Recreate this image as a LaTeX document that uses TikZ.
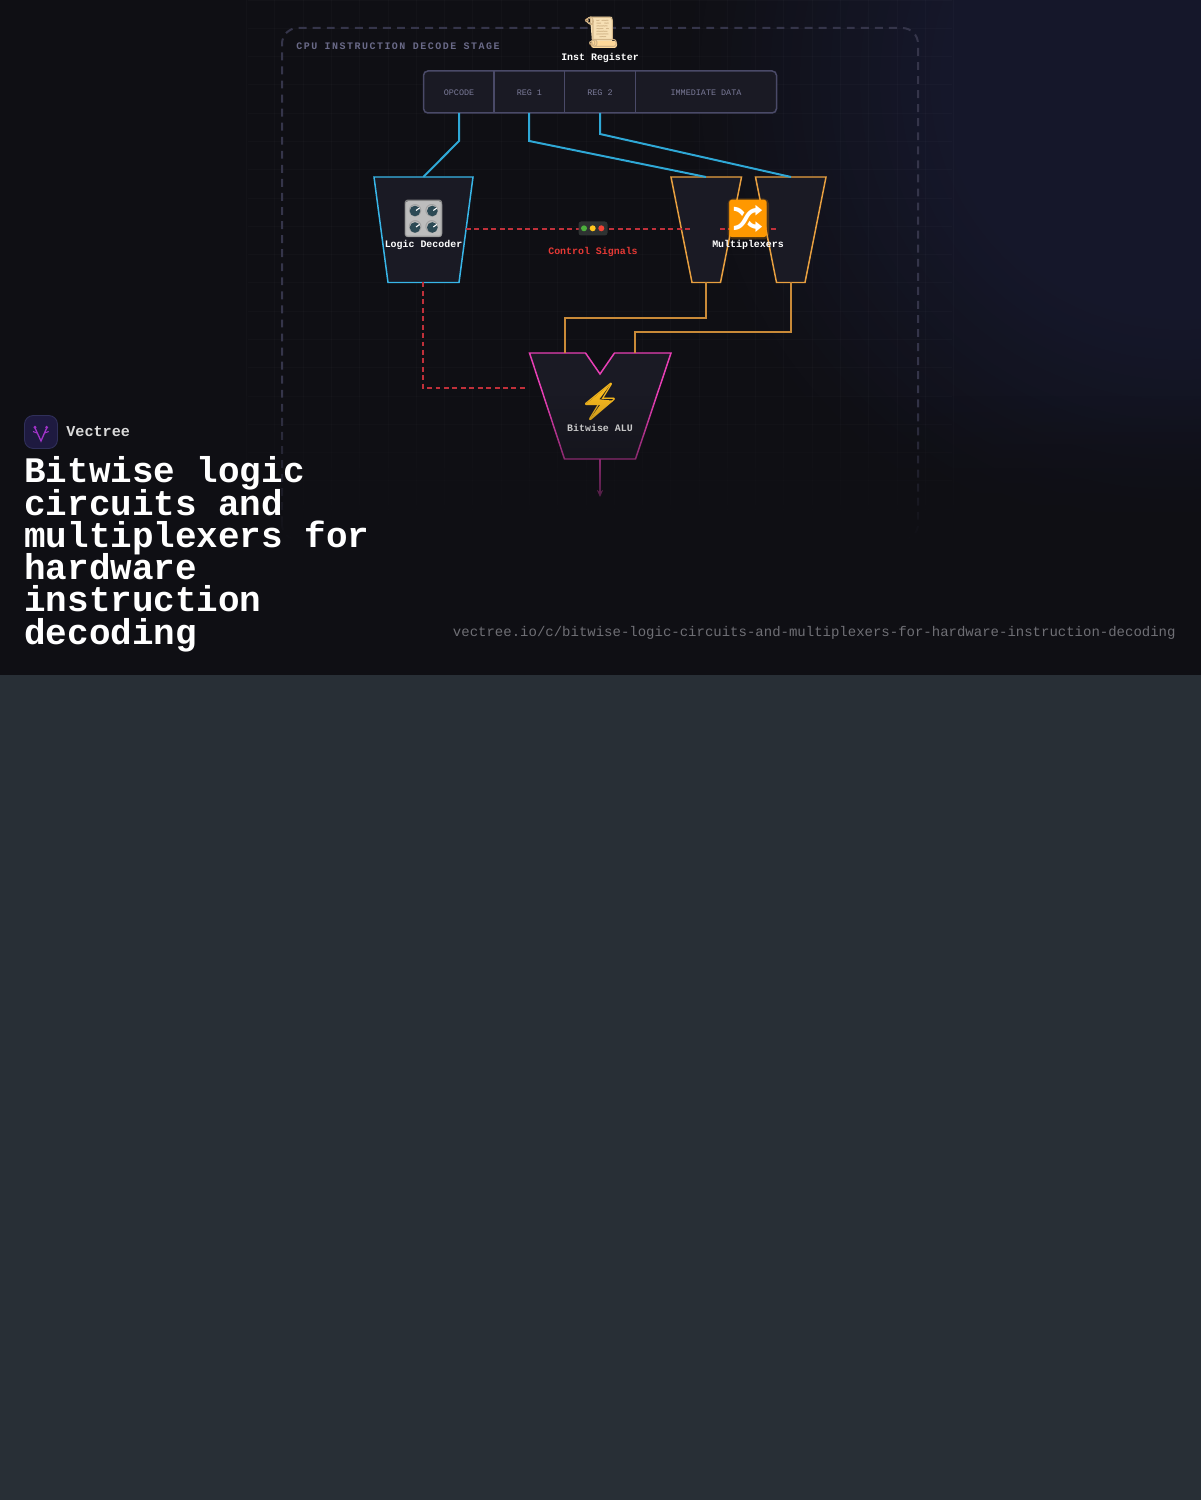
\documentclass[tikz,border=0pt]{standalone}
\usepackage{fontspec}
\setmonofont{Liberation Mono}
\setsansfont{Liberation Sans}
\newfontfamily\emojifont{Noto Emoji}
\newfontfamily\stagefont[LetterSpace=15]{Liberation Mono}
\usetikzlibrary{arrows.meta,fadings,calc}
\lineskiplimit=-100pt
\definecolor{bgdark}{HTML}{0F0F14}
\definecolor{navy}{HTML}{15172A}
\definecolor{pagegrey}{HTML}{282F36}
\definecolor{framec}{HTML}{35354A}
\definecolor{panel}{HTML}{1A1A24}
\definecolor{panelline}{HTML}{4A4A68}
\definecolor{cyanc}{HTML}{2FA8D6}
\definecolor{cyang}{HTML}{38B6E8}
\definecolor{orangec}{HTML}{E8A040}
\definecolor{orangew}{HTML}{C98A38}
\definecolor{magc}{HTML}{E83FB5}
\definecolor{redc}{HTML}{C0303A}
\definecolor{mutedt}{HTML}{6A6A88}
\definecolor{celltext}{HTML}{7A7A98}
\definecolor{sigtext}{HTML}{E53935}
\definecolor{parch}{HTML}{F6DFB4}
\definecolor{parchroll}{HTML}{FFD99A}
\definecolor{parchknob}{HTML}{8A5A30}
\definecolor{parchline}{HTML}{D2B588}
\definecolor{knobgrey}{HTML}{BDBDBD}
\definecolor{knobteal}{HTML}{2D4A55}
\definecolor{shuforange}{HTML}{FF9800}
\definecolor{boltc}{HTML}{F7B91E}
\definecolor{lampbox}{HTML}{2E3232}
\definecolor{lampg}{HTML}{4CAF3C}
\definecolor{lampy}{HTML}{FFC61E}
\definecolor{lampr}{HTML}{F44336}
\definecolor{logofill}{HTML}{1E1A40}
\definecolor{logoline}{HTML}{30305A}
\definecolor{logomark}{HTML}{A033C8}
\definecolor{urlc}{HTML}{6F6F75}
\tikzset{x=0.02cm,y=-0.02cm,
 wire/.style={line width=1.134pt,line join=miter},
 sigline/.style={redc,line width=1.134pt,dash pattern=on 2.8pt off 2pt},
 gatebox/.style={fill=panel,line width=0.85pt},
 celllabel/.style={font=\ttfamily\fontsize{4.8pt}{6pt}\selectfont,text=celltext,inner sep=0pt},
 gatelabel/.style={font=\ttfamily\bfseries\fontsize{5.65pt}{7pt}\selectfont,text=white,inner sep=0pt},
 emoji/.style={font=\emojifont\fontsize{21pt}{21pt}\selectfont,inner sep=0pt},
 halo/.style={fill=#1,opacity=0.22,rounded corners=3pt},
}
\tikzfading[name=fadebottom,top color=transparent!100,bottom color=transparent!0]
\begin{document}
\begin{tikzpicture}
\useasboundingbox (0,0) rectangle (1200,1500);
\fill[pagegrey] (-3,-3) rectangle (1203,1503);
\fill[bgdark] (-3,-3) rectangle (1203,675);
% tinted glow top right
\begin{scope}
\clip (-3,-3) rectangle (1203,675);
\foreach \i in {0,...,26} {
  \pgfmathsetmacro{\rr}{500-10*\i}
  \pgfmathsetmacro{\mixv}{\i*100/26}
  \fill[navy!\mixv!bgdark] (1180,80) circle (\rr);
}
\end{scope}
% grid
\foreach \gk in {-13,...,12} \draw[white,opacity=0.018,line width=0.4pt] ({600+(\gk+0.5)*28.28},0) -- ({600+(\gk+0.5)*28.28},540);
\foreach \gk in {0,...,19} \draw[white,opacity=0.018,line width=0.4pt] (248,{\gk*28.28}) -- (952,{\gk*28.28});
% frame
\draw[framec,line width=1.134pt,dash pattern=on 4.5pt off 3.5pt,rounded corners=9pt] (282,540) -- (282,28) -- (918,28) -- (918,540) -- cycle;
\node[anchor=west,inner sep=0pt,font=\stagefont\bfseries\fontsize{5.67pt}{7pt}\selectfont,text=mutedt] (stage) at (296,46) {CPU INSTRUCTION DECODE STAGE};
% register
\draw[panelline,fill=panel,line width=0.85pt,rounded corners=2.5pt] (423.5,71) rectangle (776.5,113);
\draw[panelline,line width=0.85pt] (494,71) -- (494,113) (564.7,71) -- (564.7,113) (635.3,71) -- (635.3,113);
\node[celllabel] (opc) at (459,92.5) {OPCODE};
\node[celllabel] (rg1) at (529.4,92.5) {REG 1};
\node[celllabel] (rg2) at (600,92.5) {REG 2};
\node[celllabel] (imm) at (706,92.5) {IMMEDIATE DATA};
\coordinate (opcb) at (459,113);
\coordinate (rg1b) at (529.2,113);
\coordinate (rg2b) at (600,113);
% gates
\draw[gatebox,draw=cyang] (374,177) -- (473,177) -- (459,282.5) -- (388,282.5) -- cycle;
\draw[gatebox,draw=orangec] (671,177) -- (741.5,177) -- (720.5,282.5) -- (692,282.5) -- cycle;
\draw[gatebox,draw=orangec] (755.5,177) -- (826,177) -- (805,282.5) -- (776.5,282.5) -- cycle;
\draw[gatebox,draw=magc] (529.5,353) -- (585.5,353) -- (600,374) -- (614.5,353) -- (671,353) -- (635.5,459) -- (564.5,459) -- cycle;
\coordinate (dect) at (423.3,177);
\coordinate (decb) at (423.3,282.5);
\coordinate (mxat) at (706,177);
\coordinate (mxab) at (706,282.5);
\coordinate (mxbt) at (791,177);
\coordinate (mxbb) at (791,282.5);
\coordinate (alul) at (564.7,353);
\coordinate (alur) at (635.3,353);
\coordinate (alub) at (600,459);
\coordinate (aluin) at (525,388.3);
\coordinate (out) at (600,497);
% wires
\draw[wire,cyanc] (opcb) -- ++(0,28) -- (dect);
\draw[wire,cyanc] (rg1b) -- ++(0,28) -- (mxat);
\draw[wire,cyanc] (rg2b) -- ++(0,21) -- (mxbt);
\draw[wire,orangew] (mxab) |- (564.7,317.7) -- (alul);
\draw[wire,orangew] (mxbb) |- (635.3,331.7) -- (alur);
\draw[sigline] (decb) |- (aluin);
\coordinate (sigl) at (466,229.3);
\coordinate (sigm) at (690,229.3);
\coordinate (sign) at (720,229.3);
\coordinate (sige) at (776,229.3);
\draw[sigline] (sigl) -- (sigm);
\draw[sigline] (sign) -- (sige);
\draw[wire,magc,-{Stealth[length=4pt,width=3.5pt]}] (alub) -- (out);
% scroll icon
\fill[parch] (590,17) -- (612,17) -- (612,42) -- (592,42) -- cycle;
\fill[parchroll,rounded corners=1.5pt] (591,41) rectangle (617,48);
\fill[parchknob] (586.5,20) circle (1.8) (590.8,44) circle (1.8);
\node[emoji,font=\emojifont\fontsize{17pt}{17pt}\selectfont,text=parchline] (scroll) at (601,32) {📜};
\node[gatelabel] (instl) at (600,57.5) {Inst Register};
% knobs icon
\fill[knobgrey,rounded corners=2pt] (405,201) rectangle (442,237);
\node[emoji,text=knobgrey!70!black] (knobs) at (423.5,219) {🎛};
\fill[knobgrey,rounded corners=2pt,opacity=0.5] (405,201) rectangle (442,237);
\foreach \kx/\ky in {415/211,432.3/211,415/227.5,432.3/227.5} {
  \fill[knobteal] (\kx,\ky) circle (5.3);
  \draw[white,line width=0.6pt] (\kx+1,\ky-0.5) -- (\kx+4.5,\ky-3);
}
\node[gatelabel] (decl) at (423.5,244.5) {Logic Decoder};
% shuffle icon
\fill[halo=shuforange] (727.5,198.5) rectangle (769,239.5);
\fill[white,rounded corners=2pt] (731,202) rectangle (766,236);
\node[emoji,text=shuforange] (shuf) at (748,219) {🔀};
\node[gatelabel] (muxl) at (748,244.5) {Multiplexers};
% bolt icon
\fill[boltc] (610.7,384) -- (586,404) -- (600,405) -- (589.3,420) -- (613.3,400.7) -- (599.3,399.3) -- cycle;
\node[emoji,text=boltc] (bolt) at (600,402) {⚡};
\node[gatelabel] (alun) at (600,428) {Bitwise ALU};
% signal lamp
\fill[lampbox,rounded corners=1.5pt] (578.5,221.5) rectangle (607.5,235.5);
\fill[lampg] (584,228.3) circle (3);
\fill[lampy] (592.7,228.3) circle (3);
\fill[lampr] (601.3,228.3) circle (3);
\node[inner sep=0pt,font=\ttfamily\bfseries\fontsize{5.65pt}{7pt}\selectfont,text=sigtext] (sigt) at (593,251.5) {Control Signals};
% fade overlay
\fill[bgdark,path fading=fadebottom] (-3,395) rectangle (1203,540.5);
\fill[bgdark] (-3,540) rectangle (1203,675);
% branding
\fill[logofill,draw=logoline,line width=0.5pt,rounded corners=5pt] (24.5,415.5) rectangle (57.5,448.5);
\coordinate (lg0) at (41,441);
\draw[logomark,line width=0.75pt] (35,428) -- (lg0) -- (46.7,428);
\draw[logomark,line width=0.6pt] (33,431.5) -- (37,433) (48.7,431.5) -- (44.7,433);
\fill[logomark] (35,427.3) circle (1.6) (46.7,427.3) circle (1.6);
\node[anchor=west,inner sep=0pt,font=\ttfamily\bfseries\fontsize{8.62pt}{10pt}\selectfont,text=white!85!black] (brand) at (66,431.5) {Vectree};
\node[anchor=north west,inner sep=0pt,align=left,font=\ttfamily\bfseries\fontsize{20.45pt}{18.37pt}\selectfont,text=white] (title) at (24,456.4) {Bitwise logic\\circuits and\\multiplexers for\\hardware\\instruction\\decoding};
\node[anchor=east,inner sep=0pt,font=\ttfamily\fontsize{7.97pt}{9pt}\selectfont,text=urlc] (url) at (1176,633) {vectree.io/c/bitwise-logic-circuits-and-multiplexers-for-hardware-instruction-decoding};
\end{tikzpicture}
\end{document}
